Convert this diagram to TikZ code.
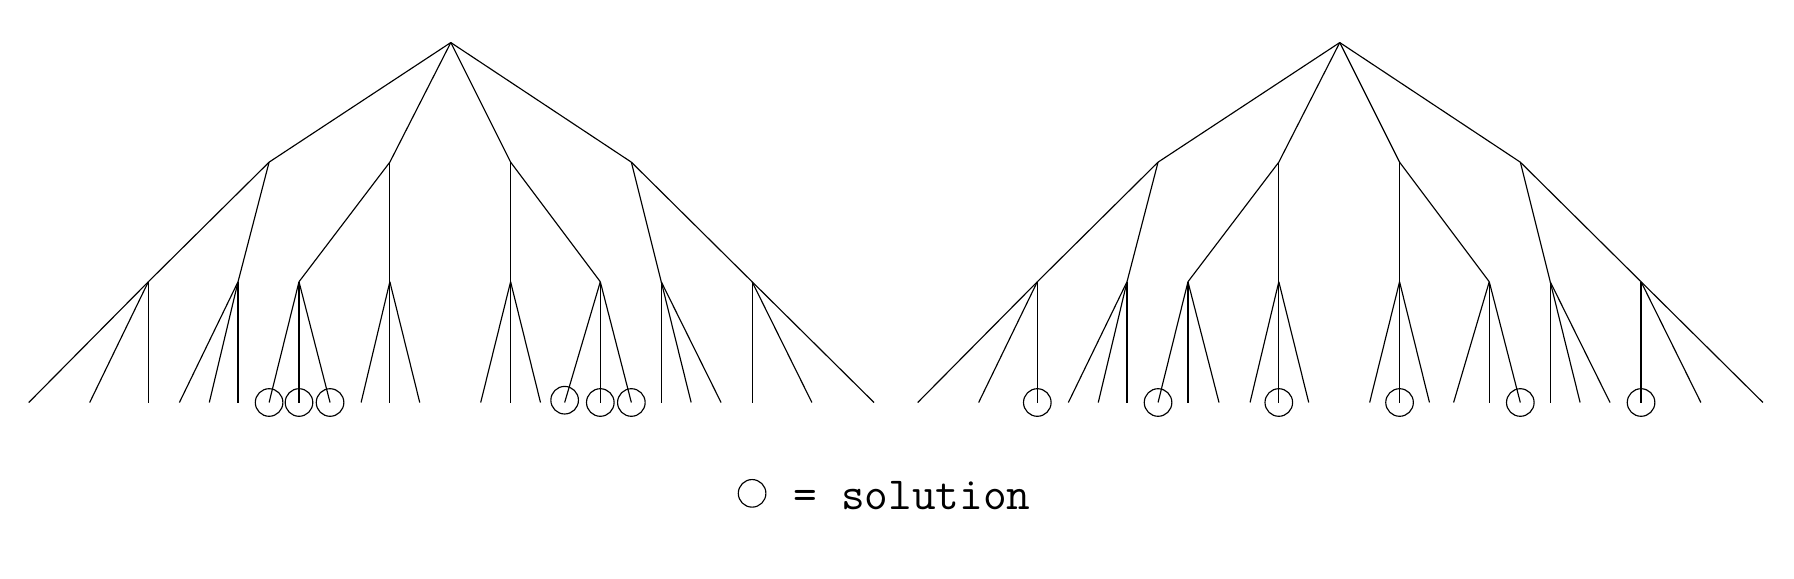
\documentclass[tikz,border=0pt]{standalone}
\begin{document}
\begin{tikzpicture}[x=1pt,y=-1pt,edge/.style={line width=1pt,black},sol/.style={draw,circle,minimum size=24pt,inner sep=0pt,line width=1pt}]
\useasboundingbox (0,0) rectangle (1560,503);
\foreach \t/\o in {L/0,R/773}{
  \coordinate (\t r) at (392+\o,37);
  \foreach \a/\x in {1/234,2/339,3/444,4/549}{
    \coordinate (\t a\a) at (\x+\o,141);
    \draw[edge] (\t r) -- (\t a\a);
  }
  \foreach \b/\p/\x in {1/1/129,2/1/207,3/2/260,4/2/339,5/3/444,6/3/522,7/4/575,8/4/654}{
    \coordinate (\t b\b) at (\x+\o,245);
    \draw[edge] (\t a\p) -- (\t b\b);
  }
  \foreach \c/\p/\x in {1/1/25,2/1/78,3/1/129,4/2/156,5/2/182,6/2/207,7/3/234,8/3/260,9/3/287,10/4/314,11/4/339,12/4/365,13/5/418,14/5/444,15/5/470,16/6/491,17/6/522,18/6/549,19/7/575,20/7/601,21/7/627,22/8/654,23/8/706,24/8/760}{
    \coordinate (\t c\c) at (\x+\o,350);
    \draw[edge] (\t b\p) -- (\t c\c);
  }
}
\foreach \n in {7,8,9,17,18} \node[sol] (sL\n) at (Lc\n) {};
\node[sol] (sL16) at ([yshift=2pt]Lc16) {};
\foreach \n in {3,7,11,14,18,22} \node[sol] (sR\n) at (Rc\n) {};
\node[sol] (leg) at (654,429) {};
\node[anchor=west,inner sep=0pt,font=\ttfamily\fontsize{40}{40}\selectfont] (legt) at (690,431) {= solution};
\end{tikzpicture}
\end{document}
